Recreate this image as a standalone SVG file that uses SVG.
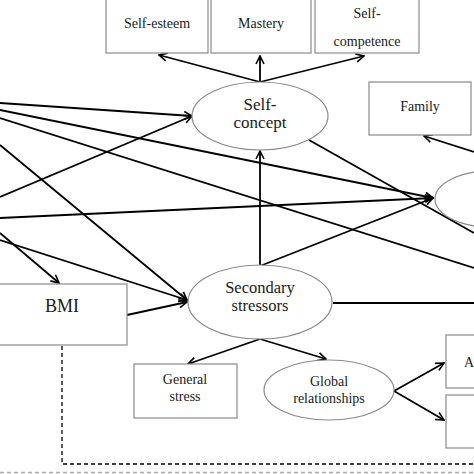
<svg xmlns="http://www.w3.org/2000/svg" width="474" height="474" viewBox="0 0 474 474">
<defs>
<marker id="ah" viewBox="0 0 10 10" refX="9" refY="5" markerWidth="10" markerHeight="10" markerUnits="userSpaceOnUse" orient="auto">
<path d="M1,1 L9,5 L1,9" fill="none" stroke="#000" stroke-width="1.6"/>
</marker>
<style>
.box{fill:#fff;stroke:#8a8a8a;stroke-width:1.2}
.ell{fill:#fff;stroke:#8a8a8a;stroke-width:1.2}
.t{font-family:"Liberation Serif","Times New Roman",serif;fill:#1a1a1a;text-anchor:middle}
.s14{font-size:14px}
.s17{font-size:17px}
.a{stroke:#000;stroke-width:1.8;fill:none}
.ar{marker-end:url(#ah)}
</style>
</defs>
<rect width="474" height="474" fill="#fff"/>
<g id="connectors">
<line class="a ar" x1="0" y1="103" x2="192" y2="116"/>
<line class="a ar" x1="0" y1="197" x2="192" y2="116"/>
<line class="a ar" x1="0" y1="110" x2="433" y2="198"/>
<line class="a ar" x1="0" y1="218" x2="433" y2="198"/>
<line class="a ar" x1="260" y1="266" x2="433" y2="198"/>
<line class="a" x1="0" y1="118" x2="474" y2="268"/>
<line class="a" x1="309" y1="140" x2="474" y2="233"/>
<line class="a ar" x1="474" y1="152" x2="424" y2="136"/>
<line class="a ar" x1="0" y1="145" x2="187" y2="300"/>
<line class="a ar" x1="0" y1="240" x2="187" y2="300"/>
<line class="a ar" x1="127" y1="315" x2="187" y2="302"/>
<line class="a ar" x1="0" y1="233" x2="59" y2="283"/>
<line class="a ar" x1="260" y1="266" x2="260" y2="151"/>
<line class="a ar" x1="260" y1="82" x2="159" y2="55"/>
<line class="a ar" x1="260" y1="82" x2="260" y2="56"/>
<line class="a ar" x1="260" y1="82" x2="364" y2="56"/>
<line class="a" x1="333" y1="303" x2="474" y2="303"/>
<line class="a ar" x1="260" y1="339" x2="188" y2="364"/>
<line class="a ar" x1="260" y1="339" x2="326" y2="359"/>
<line class="a ar" x1="394" y1="391" x2="444" y2="363"/>
<line class="a ar" x1="394" y1="391" x2="444" y2="420"/>
<polyline points="62,346 62,464 474,464" fill="none" stroke="#000" stroke-width="1.3" stroke-dasharray="4,3"/>
<line x1="0" y1="472.5" x2="474" y2="472.5" stroke="#aaa" stroke-width="1.5" stroke-dasharray="4,3"/>
</g>
<g id="self-esteem">
<rect class="box" x="106" y="-2" width="102" height="55"/>
<text class="t s14" x="157" y="28">Self-esteem</text>
</g>
<g id="mastery">
<rect class="box" x="211" y="-2" width="100" height="55"/>
<text class="t s14" x="261" y="28">Mastery</text>
</g>
<g id="self-competence">
<rect class="box" x="315" y="-2" width="104" height="55"/>
<text class="t s14" x="367" y="18">Self-</text>
<text class="t s14" x="367" y="46">competence</text>
</g>
<g id="self-concept">
<ellipse class="ell" cx="260" cy="116" rx="68" ry="34"/>
<text class="t s17" x="260" y="110">Self-</text>
<text class="t s17" x="260" y="128">concept</text>
</g>
<g id="family">
<rect class="box" x="369" y="82" width="102" height="53"/>
<text class="t s14" x="420" y="111">Family</text>
</g>
<g id="right-ellipse">
<ellipse class="ell" cx="490" cy="199" rx="55" ry="28"/>
</g>
<g id="bmi">
<rect class="box" x="-2" y="284" width="129" height="61"/>
<text class="t" style="font-size:18px" x="62" y="312">BMI</text>
</g>
<g id="secondary-stressors">
<ellipse class="ell" cx="260" cy="302" rx="72" ry="37"/>
<text class="t" style="font-size:16.5px" x="260" y="293">Secondary</text>
<text class="t" style="font-size:16.5px" x="260" y="311">stressors</text>
</g>
<g id="general-stress">
<rect class="box" x="134" y="364" width="103" height="54"/>
<text class="t s14" x="185" y="384">General</text>
<text class="t s14" x="185" y="401">stress</text>
</g>
<g id="global-relationships">
<ellipse class="ell" cx="329" cy="390" rx="65" ry="30"/>
<text class="t s14" x="329" y="386">Global</text>
<text class="t s14" x="329" y="403">relationships</text>
</g>
<g id="right-box-1">
<rect class="box" x="446" y="335" width="40" height="53"/>
<text class="t s14" x="464" y="367" style="text-anchor:start">A</text>
</g>
<g id="right-box-2">
<rect class="box" x="446" y="395" width="40" height="53"/>
</g>
</svg>
